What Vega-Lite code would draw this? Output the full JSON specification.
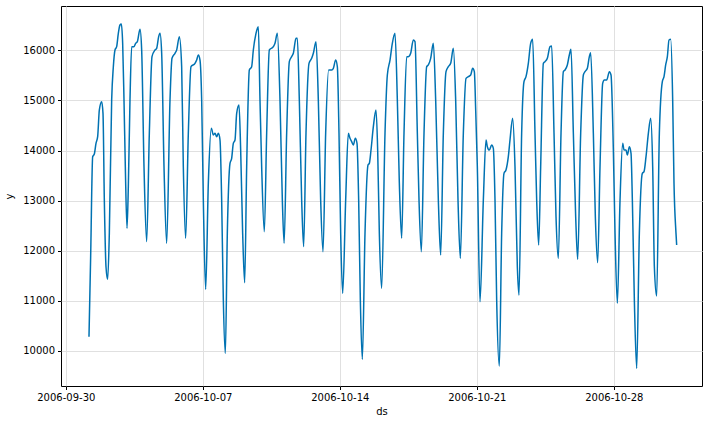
{
  "$schema": "https://vega.github.io/schema/vega-lite/v6.json",
  "width": 641,
  "height": 380,
  "autosize": {"type": "none"},
  "padding": {"left": 61, "top": 6, "right": 10, "bottom": 38},
  "background": "white",
  "config": {
    "view": {"stroke": "black", "strokeWidth": 1},
    "axis": {
      "labelFont": "DejaVu Sans", "titleFont": "DejaVu Sans",
      "labelFontSize": 10, "titleFontSize": 10, "titleFontWeight": "normal",
      "labelColor": "black", "titleColor": "black",
      "tickColor": "black", "tickSize": 3.5, "tickWidth": 1,
      "gridColor": "#e0e0e0", "gridWidth": 1, "domain": false
    }
  },
  "data": {"values": [
    {"ds":"2006-10-01T04:26Z","y":10284},{"ds":"2006-10-01T06:30Z","y":11900},{"ds":"2006-10-01T08:57Z","y":13877},{"ds":"2006-10-01T10:59Z","y":13930},{"ds":"2006-10-01T13:02Z","y":14143},{"ds":"2006-10-01T15:04Z","y":14276},{"ds":"2006-10-01T17:07Z","y":14808},{"ds":"2006-10-01T19:59Z","y":14975},{"ds":"2006-10-01T21:37Z","y":14742},{"ds":"2006-10-01T23:15Z","y":13012},
    {"ds":"2006-10-02T01:18Z","y":11682},{"ds":"2006-10-02T03:20Z","y":11429},{"ds":"2006-10-02T05:23Z","y":12347},{"ds":"2006-10-02T08:15Z","y":15008},{"ds":"2006-10-02T10:18Z","y":15673},{"ds":"2006-10-02T12:20Z","y":16006},{"ds":"2006-10-02T14:22Z","y":16072},{"ds":"2006-10-02T16:25Z","y":16339},{"ds":"2006-10-02T18:27Z","y":16505},{"ds":"2006-10-02T20:05Z","y":16525},{"ds":"2006-10-02T21:44Z","y":16139},{"ds":"2006-10-02T23:22Z","y":15008},
    {"ds":"2006-10-03T01:00Z","y":13677},{"ds":"2006-10-03T03:03Z","y":12447},{"ds":"2006-10-03T04:41Z","y":13278},{"ds":"2006-10-03T06:43Z","y":15008},{"ds":"2006-10-03T08:46Z","y":16073},{"ds":"2006-10-03T11:38Z","y":16073},{"ds":"2006-10-03T13:41Z","y":16139},{"ds":"2006-10-03T15:43Z","y":16172},{"ds":"2006-10-03T18:59Z","y":16419},{"ds":"2006-10-03T21:02Z","y":16006},{"ds":"2006-10-03T23:54Z","y":13677},
    {"ds":"2006-10-04T03:10Z","y":12181},{"ds":"2006-10-04T06:26Z","y":14343},{"ds":"2006-10-04T09:42Z","y":15873},{"ds":"2006-10-04T13:23Z","y":16006},{"ds":"2006-10-04T15:26Z","y":16039},{"ds":"2006-10-04T17:53Z","y":16272},{"ds":"2006-10-04T19:31Z","y":16339},{"ds":"2006-10-04T21:34Z","y":15940},
    {"ds":"2006-10-05T00:26Z","y":13677},{"ds":"2006-10-05T03:42Z","y":12147},{"ds":"2006-10-05T07:47Z","y":15008},{"ds":"2006-10-05T10:14Z","y":15840},{"ds":"2006-10-05T13:55Z","y":15940},{"ds":"2006-10-05T15:57Z","y":16006},{"ds":"2006-10-05T19:14Z","y":16272},{"ds":"2006-10-05T22:05Z","y":15673},
    {"ds":"2006-10-06T00:07Z","y":13677},{"ds":"2006-10-06T02:59Z","y":12247},{"ds":"2006-10-06T06:15Z","y":14343},{"ds":"2006-10-06T09:32Z","y":15673},{"ds":"2006-10-06T14:26Z","y":15740},{"ds":"2006-10-06T16:29Z","y":15806},{"ds":"2006-10-06T18:32Z","y":15906},{"ds":"2006-10-06T20:34Z","y":15806},{"ds":"2006-10-06T22:37Z","y":15008},
    {"ds":"2006-10-07T00:39Z","y":13012},{"ds":"2006-10-07T03:31Z","y":11229},{"ds":"2006-10-07T06:47Z","y":13345},{"ds":"2006-10-07T10:28Z","y":14443},{"ds":"2006-10-07T12:55Z","y":14310},{"ds":"2006-10-07T14:58Z","y":14343},{"ds":"2006-10-07T17:01Z","y":14276},{"ds":"2006-10-07T19:03Z","y":14343},{"ds":"2006-10-07T21:06Z","y":14210},{"ds":"2006-10-07T23:08Z","y":13012},
    {"ds":"2006-10-08T01:11Z","y":11016},{"ds":"2006-10-08T03:38Z","y":9952},{"ds":"2006-10-08T06:04Z","y":12347},{"ds":"2006-10-08T09:21Z","y":13744},{"ds":"2006-10-08T11:24Z","y":13844},{"ds":"2006-10-08T13:26Z","y":14143},{"ds":"2006-10-08T15:29Z","y":14210},{"ds":"2006-10-08T17:32Z","y":14742},{"ds":"2006-10-08T20:24Z","y":14908},{"ds":"2006-10-08T22:26Z","y":14010},
    {"ds":"2006-10-09T00:53Z","y":12347},{"ds":"2006-10-09T03:21Z","y":11362},{"ds":"2006-10-09T05:48Z","y":13677},{"ds":"2006-10-09T09:04Z","y":15607},{"ds":"2006-10-09T11:55Z","y":15673},{"ds":"2006-10-09T13:58Z","y":16006},{"ds":"2006-10-09T17:14Z","y":16339},{"ds":"2006-10-09T20:05Z","y":16472},{"ds":"2006-10-09T22:08Z","y":15008},
    {"ds":"2006-10-10T00:11Z","y":13677},{"ds":"2006-10-10T03:27Z","y":12380},{"ds":"2006-10-10T06:19Z","y":14343},{"ds":"2006-10-10T09:35Z","y":16006},{"ds":"2006-10-10T14:29Z","y":16072},{"ds":"2006-10-10T16:32Z","y":16139},{"ds":"2006-10-10T19:24Z","y":16339},{"ds":"2006-10-10T22:40Z","y":15008},
    {"ds":"2006-10-11T01:32Z","y":13012},{"ds":"2006-10-11T03:45Z","y":12150},{"ds":"2006-10-11T06:50Z","y":14343},{"ds":"2006-10-11T10:06Z","y":15773},{"ds":"2006-10-11T12:58Z","y":15873},{"ds":"2006-10-11T15:01Z","y":15940},{"ds":"2006-10-11T18:17Z","y":16239},{"ds":"2006-10-11T19:55Z","y":16239},{"ds":"2006-10-11T22:22Z","y":15008},
    {"ds":"2006-10-12T01:14Z","y":13012},{"ds":"2006-10-12T03:41Z","y":12081},{"ds":"2006-10-12T06:33Z","y":14343},{"ds":"2006-10-12T10:14Z","y":15740},{"ds":"2006-10-12T13:31Z","y":15840},{"ds":"2006-10-12T15:33Z","y":15940},{"ds":"2006-10-12T18:49Z","y":16172},{"ds":"2006-10-12T21:40Z","y":15008},
    {"ds":"2006-10-13T00:32Z","y":13012},{"ds":"2006-10-13T03:24Z","y":11981},{"ds":"2006-10-13T06:40Z","y":14343},{"ds":"2006-10-13T10:21Z","y":15607},{"ds":"2006-10-13T14:02Z","y":15607},{"ds":"2006-10-13T16:05Z","y":15640},{"ds":"2006-10-13T18:56Z","y":15806},{"ds":"2006-10-13T20:59Z","y":15673},{"ds":"2006-10-13T23:01Z","y":14343},
    {"ds":"2006-10-14T01:04Z","y":12347},{"ds":"2006-10-14T03:32Z","y":11149},{"ds":"2006-10-14T07:12Z","y":13012},{"ds":"2006-10-14T10:28Z","y":14343},{"ds":"2006-10-14T12:30Z","y":14243},{"ds":"2006-10-14T14:33Z","y":14176},{"ds":"2006-10-14T16:35Z","y":14110},{"ds":"2006-10-14T19:03Z","y":14243},{"ds":"2006-10-14T21:06Z","y":14143},{"ds":"2006-10-14T23:08Z","y":13012},
    {"ds":"2006-10-15T01:11Z","y":11016},{"ds":"2006-10-15T03:38Z","y":9832},{"ds":"2006-10-15T06:54Z","y":12347},{"ds":"2006-10-15T10:35Z","y":13711},{"ds":"2006-10-15T12:13Z","y":13744},{"ds":"2006-10-15T14:16Z","y":14010},{"ds":"2006-10-15T17:08Z","y":14476},{"ds":"2006-10-15T20:24Z","y":14809},{"ds":"2006-10-15T22:26Z","y":14010},
    {"ds":"2006-10-16T00:29Z","y":12347},{"ds":"2006-10-16T03:20Z","y":11249},{"ds":"2006-10-16T07:26Z","y":14343},{"ds":"2006-10-16T10:18Z","y":15507},{"ds":"2006-10-16T13:34Z","y":15806},{"ds":"2006-10-16T16:25Z","y":16139},{"ds":"2006-10-16T19:41Z","y":16339},{"ds":"2006-10-16T22:33Z","y":15008},
    {"ds":"2006-10-17T01:01Z","y":13345},{"ds":"2006-10-17T03:52Z","y":12247},{"ds":"2006-10-17T06:44Z","y":14343},{"ds":"2006-10-17T10:00Z","y":15873},{"ds":"2006-10-17T12:03Z","y":15873},{"ds":"2006-10-17T14:54Z","y":15940},{"ds":"2006-10-17T18:10Z","y":16206},{"ds":"2006-10-17T20:13Z","y":16172},{"ds":"2006-10-17T23:05Z","y":14343},
    {"ds":"2006-10-18T01:08Z","y":13012},{"ds":"2006-10-18T03:59Z","y":11981},{"ds":"2006-10-18T07:16Z","y":14343},{"ds":"2006-10-18T10:32Z","y":15673},{"ds":"2006-10-18T12:35Z","y":15707},{"ds":"2006-10-18T15:26Z","y":15840},{"ds":"2006-10-18T18:42Z","y":16139},{"ds":"2006-10-18T21:34Z","y":15008},
    {"ds":"2006-10-19T00:50Z","y":13012},{"ds":"2006-10-19T03:42Z","y":11914},{"ds":"2006-10-19T06:58Z","y":14343},{"ds":"2006-10-19T10:14Z","y":15574},{"ds":"2006-10-19T13:06Z","y":15673},{"ds":"2006-10-19T15:58Z","y":15740},{"ds":"2006-10-19T19:14Z","y":16039},{"ds":"2006-10-19T22:05Z","y":15008},
    {"ds":"2006-10-20T00:57Z","y":13012},{"ds":"2006-10-20T03:49Z","y":11848},{"ds":"2006-10-20T07:29Z","y":14343},{"ds":"2006-10-20T10:46Z","y":15441},{"ds":"2006-10-20T13:38Z","y":15474},{"ds":"2006-10-20T16:29Z","y":15507},{"ds":"2006-10-20T18:56Z","y":15640},{"ds":"2006-10-20T20:59Z","y":15574},{"ds":"2006-10-20T22:40Z","y":14800},
    {"ds":"2006-10-21T00:39Z","y":13677},{"ds":"2006-10-21T03:55Z","y":10983},{"ds":"2006-10-21T08:01Z","y":13012},{"ds":"2006-10-21T11:17Z","y":14210},{"ds":"2006-10-21T12:55Z","y":14077},{"ds":"2006-10-21T15:22Z","y":14010},{"ds":"2006-10-21T18:14Z","y":14110},{"ds":"2006-10-21T20:17Z","y":14043},{"ds":"2006-10-21T22:19Z","y":13012},
    {"ds":"2006-10-22T00:22Z","y":11016},{"ds":"2006-10-22T03:38Z","y":9699},{"ds":"2006-10-22T06:29Z","y":12347},{"ds":"2006-10-22T09:20Z","y":13544},{"ds":"2006-10-22T11:47Z","y":13611},{"ds":"2006-10-22T14:39Z","y":13877},{"ds":"2006-10-22T16:42Z","y":14210},{"ds":"2006-10-22T19:58Z","y":14642},{"ds":"2006-10-22T22:50Z","y":13677},
    {"ds":"2006-10-23T01:42Z","y":11682},{"ds":"2006-10-23T03:45Z","y":11116},{"ds":"2006-10-23T07:00Z","y":14343},{"ds":"2006-10-23T09:52Z","y":15374},{"ds":"2006-10-23T12:19Z","y":15474},{"ds":"2006-10-23T15:11Z","y":15740},{"ds":"2006-10-23T18:03Z","y":16139},{"ds":"2006-10-23T20:30Z","y":16219},{"ds":"2006-10-23T23:22Z","y":14343},
    {"ds":"2006-10-24T01:25Z","y":13012},{"ds":"2006-10-24T03:52Z","y":12114},{"ds":"2006-10-24T06:19Z","y":13677},{"ds":"2006-10-24T09:36Z","y":15740},{"ds":"2006-10-24T11:38Z","y":15773},{"ds":"2006-10-24T14:30Z","y":15840},{"ds":"2006-10-24T17:46Z","y":16073},{"ds":"2006-10-24T19:49Z","y":16086},{"ds":"2006-10-24T22:41Z","y":14343},
    {"ds":"2006-10-25T01:08Z","y":12680},{"ds":"2006-10-25T03:59Z","y":11848},{"ds":"2006-10-25T07:16Z","y":14343},{"ds":"2006-10-25T10:08Z","y":15574},{"ds":"2006-10-25T12:10Z","y":15607},{"ds":"2006-10-25T15:01Z","y":15707},{"ds":"2006-10-25T17:28Z","y":15906},{"ds":"2006-10-25T19:32Z","y":16019},{"ds":"2006-10-25T22:24Z","y":14343},
    {"ds":"2006-10-26T01:15Z","y":12680},{"ds":"2006-10-26T03:42Z","y":11828},{"ds":"2006-10-26T07:23Z","y":14343},{"ds":"2006-10-26T10:39Z","y":15507},{"ds":"2006-10-26T12:42Z","y":15574},{"ds":"2006-10-26T15:33Z","y":15640},{"ds":"2006-10-26T18:00Z","y":15873},{"ds":"2006-10-26T19:38Z","y":15953},{"ds":"2006-10-26T22:55Z","y":14343},
    {"ds":"2006-10-27T01:22Z","y":12680},{"ds":"2006-10-27T04:13Z","y":11762},{"ds":"2006-10-27T07:05Z","y":13677},{"ds":"2006-10-27T10:21Z","y":15341},{"ds":"2006-10-27T12:24Z","y":15407},{"ds":"2006-10-27T15:16Z","y":15407},{"ds":"2006-10-27T18:33Z","y":15574},{"ds":"2006-10-27T20:35Z","y":15507},{"ds":"2006-10-27T23:27Z","y":14010},
    {"ds":"2006-10-28T01:30Z","y":12347},{"ds":"2006-10-28T04:22Z","y":10950},{"ds":"2006-10-28T07:38Z","y":13012},{"ds":"2006-10-28T10:54Z","y":14143},{"ds":"2006-10-28T12:32Z","y":14010},{"ds":"2006-10-28T14:58Z","y":14010},{"ds":"2006-10-28T16:37Z","y":13910},{"ds":"2006-10-28T19:05Z","y":14077},{"ds":"2006-10-28T21:07Z","y":13944},{"ds":"2006-10-28T22:45Z","y":13012},
    {"ds":"2006-10-29T01:12Z","y":11016},{"ds":"2006-10-29T04:04Z","y":9652},{"ds":"2006-10-29T07:19Z","y":12347},{"ds":"2006-10-29T10:59Z","y":13544},{"ds":"2006-10-29T13:03Z","y":13578},{"ds":"2006-10-29T15:30Z","y":13877},{"ds":"2006-10-29T18:22Z","y":14343},{"ds":"2006-10-29T21:14Z","y":14642},{"ds":"2006-10-29T23:41Z","y":13677},
    {"ds":"2006-10-30T01:44Z","y":11682},{"ds":"2006-10-30T04:35Z","y":11096},{"ds":"2006-10-30T07:51Z","y":14343},{"ds":"2006-10-30T11:31Z","y":15374},{"ds":"2006-10-30T13:34Z","y":15474},{"ds":"2006-10-30T15:36Z","y":15707},{"ds":"2006-10-30T17:40Z","y":15873},{"ds":"2006-10-30T19:42Z","y":16206},{"ds":"2006-10-30T21:45Z","y":16219},
    {"ds":"2006-10-31T00:12Z","y":15008},{"ds":"2006-10-31T01:49Z","y":13345},{"ds":"2006-10-31T04:16Z","y":12347},{"ds":"2006-10-31T05:05Z","y":12114}
  ]},
  "mark": {"type": "line", "color": "#0072B2", "strokeWidth": 1.5, "interpolate": "monotone"},
  "encoding": {
    "x": {
      "field": "ds", "type": "temporal",
      "scale": {
        "type": "utc", "nice": false,
        "domain": [
          {"year": 2006, "month": 9, "date": 29, "hours": 18, "minutes": 7, "utc": true},
          {"year": 2006, "month": 11, "date": 1, "hours": 12, "minutes": 9, "utc": true}
        ]
      },
      "axis": {
        "title": "ds", "format": "%Y-%m-%d", "labelAngle": 0, "grid": true,
        "labelPadding": 3, "titlePadding": 4,
        "values": [
          {"year": 2006, "month": 9, "date": 30, "utc": true},
          {"year": 2006, "month": 10, "date": 7, "utc": true},
          {"year": 2006, "month": 10, "date": 14, "utc": true},
          {"year": 2006, "month": 10, "date": 21, "utc": true},
          {"year": 2006, "month": 10, "date": 28, "utc": true}
        ]
      }
    },
    "y": {
      "field": "y", "type": "quantitative",
      "scale": {"domain": [9301, 16884], "nice": false, "zero": false},
      "axis": {
        "title": "y", "format": "d", "grid": true,
        "labelPadding": 3, "titlePadding": 8,
        "values": [10000, 11000, 12000, 13000, 14000, 15000, 16000]
      }
    }
  }
}
